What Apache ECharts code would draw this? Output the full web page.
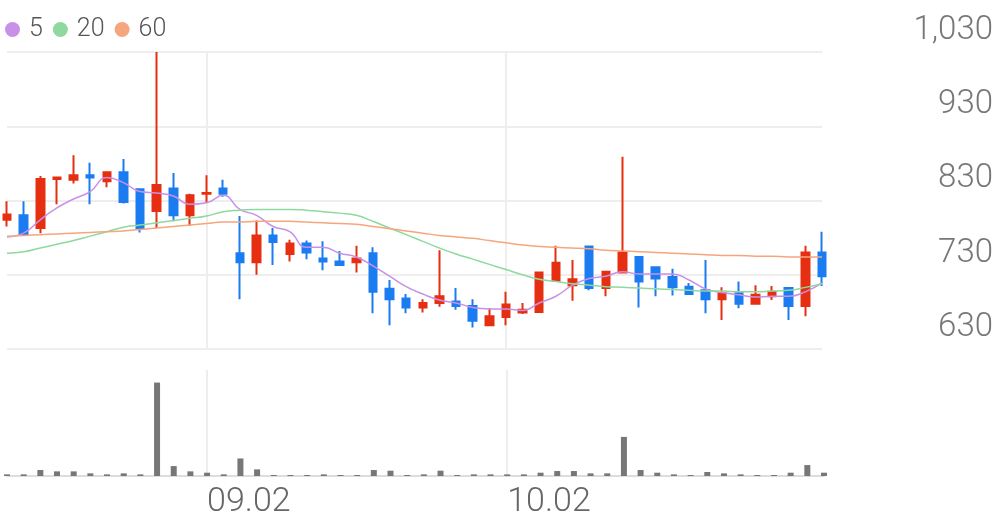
<!DOCTYPE html>
<html>
<head>
<meta charset="utf-8">
<script src="https://cdn.jsdelivr.net/npm/echarts@6/dist/echarts.min.js"></script>
<style>html,body{margin:0;padding:0;background:#fff}#main{width:996px;height:522px}</style>
</head>
<body>
<div id="main"></div>
<script>
var dates = ['08.14','08.16','08.19','08.20','08.21','08.22','08.23','08.26','08.27','08.28',
  '08.29','08.30','09.02','09.03','09.04','09.05','09.06','09.09','09.10','09.11',
  '09.12','09.13','09.19','09.20','09.23','09.24','09.25','09.26','09.27','09.30',
  '10.02','10.04','10.07','10.08','10.10','10.11','10.14','10.15','10.16','10.17',
  '10.18','10.21','10.22','10.23','10.24','10.25','10.28','10.29','10.30','10.31'];
// [open, close, low, high]
var candles = [
  [804,811,795,829],[810,785,785,829],[793,859,786,863],[859,861,825,862],[858,864,853,891],
  [864,861,825,881],[856,868,848,868],[868,828,826,886],[845,793,787,845],[816,851,793,1030],
  [846,810,802,867],[810,837,796,839],[839,840,827,864],[846,839,835,858],[759,747,697,809],
  [747,783,730,803],[783,774,743,793],[758,772,748,777],[772,760,751,776],[752,748,736,775],
  [748,743,742,762],[747,752,733,769],[759,707,678,767],[711,697,662,723],[698,686,678,704],
  [686,692,679,697],[692,701,687,763],[694,688,683,712],[688,668,659,697],[662,674,661,685],
  [673,690,662,707],[679,683,677,692],[680,733,679,734],[722,746,721,769],[716,724,695,750],
  [768,712,709,769],[712,734,701,734],[733,760,733,889],[754,721,686,755],[740,725,701,741],
  [727,713,702,738],[714,704,703,719],[709,697,678,750],[697,705,669,713],[705,691,685,721],
  [691,703,691,716],[701,707,696,715],[712,688,669,712],[688,760,674,769],[760,728,715,788]];
var ma5 = [781,786,804,820,832,842,861,854,842,840,836,825,827,837,818,810,795,788,767,767,
  759,754,742,728,714,704,696,692,686,684,684,682,692,701,716,725,728,734,731,731,
  731,723,711,706,703,700,701,701,707,719];
var ma20 = [759,761,766,771,776,782,788,794,797,800,803,806,809,815,817,818,818,818,817,815,
  813,810,802,793,784,775,766,758,751,744,737,730,724,721,718,716,714,713,712,711,
  710,709,708,708,707,707,708,709,713,718];
var ma60 = [782,783,784,785,786,787,788,789,791,793,795,797,799,801,801,802,802,802,801,800,
  799,798,795,792,789,786,783,781,779,776,773,770,768,767,766,765,763,762,761,760,
  759,758,757,756,756,755,755,754,754,754];
var volumes = [5,5,18,14,14,8,5,8,5,282,30,14,10,5,53,20,3,3,3,5,3,3,18,16,3,5,16,3,5,5,
  5,5,10,15,15,8,8,118,18,10,5,3,12,8,5,3,3,10,33,10];
var yTicks = [630, 1030, 100];

var chart = echarts.init(document.getElementById('main'));
var showDate = function(i){ return dates[i] === '09.02' || dates[i] === '10.02'; };
var font = 'Roboto, sans-serif';

chart.setOption({
  animation: false,
  legend: {
    left: 0, top: 12, itemGap: 10, itemWidth: 15, itemHeight: 15, icon: 'circle',
    textStyle: { fontSize: 25, fontWeight: 300, color: '#555', fontFamily: font, padding: [0,0,0,4] },
    data: ['5','20','60']
  },
  grid: [
    { left: 7, right: 172, top: 52, height: 297 },
    { left: 7, right: 172, top: 370, height: 106 }
  ],
  xAxis: [
    { type: 'category', data: dates, gridIndex: 0, boundaryGap: false,
      axisLine: { show: false }, axisTick: { show: false, interval: showDate },
      axisLabel: { show: false },
      splitLine: { show: true, interval: showDate, lineStyle: { color: '#eee', width: 2 } } },
    { type: 'category', data: dates, gridIndex: 1, boundaryGap: false,
      axisLine: { lineStyle: { color: '#ddd', width: 2 } },
      axisTick: { show: false, interval: showDate },
      axisLabel: { interval: showDate, fontSize: 34, fontWeight: 300, color: '#666', fontFamily: font, margin: 9, align: 'left' },
      splitLine: { show: true, interval: showDate, lineStyle: { color: '#eee', width: 2 } } }
  ],
  yAxis: [
    { type: 'value', gridIndex: 0, position: 'right', min: yTicks[0], max: yTicks[1], interval: yTicks[2],
      axisLine: { show: false }, axisTick: { show: false },
      splitLine: { lineStyle: { color: '#eee', width: 2 } },
      axisLabel: { fontSize: 33, fontWeight: 300, color: '#777', fontFamily: font, align: 'right', margin: 171,
        verticalAlign: 'bottom', padding: [0,0,5,0],
        formatter: function(v){ return v.toLocaleString('en-US'); } } },
    { type: 'value', gridIndex: 1, min: 0, max: 320, show: false, splitLine: { show: false } }
  ],
  series: [
    { type: 'candlestick', name: 'price', xAxisIndex: 0, yAxisIndex: 0, data: candles, barWidth: 8,
      itemStyle: { color: '#e62e10', color0: '#1a7cf0', borderColor: '#e62e10', borderColor0: '#1a7cf0', borderWidth: 2 } },
    { type: 'line', name: '5', data: ma5, smooth: true, showSymbol: false, lineStyle: { color: '#c990e8', width: 1.5 }, itemStyle: { color: '#c990e8' } },
    { type: 'line', name: '20', data: ma20, smooth: true, showSymbol: false, lineStyle: { color: '#8fd99e', width: 1.5 }, itemStyle: { color: '#8fd99e' } },
    { type: 'line', name: '60', data: ma60, smooth: true, showSymbol: false, lineStyle: { color: '#f5a67d', width: 1.5 }, itemStyle: { color: '#f5a67d' } },
    { type: 'bar', name: 'vol', xAxisIndex: 1, yAxisIndex: 1, data: volumes, barWidth: 6, itemStyle: { color: '#777' } }
  ]
});
</script>
</body>
</html>
